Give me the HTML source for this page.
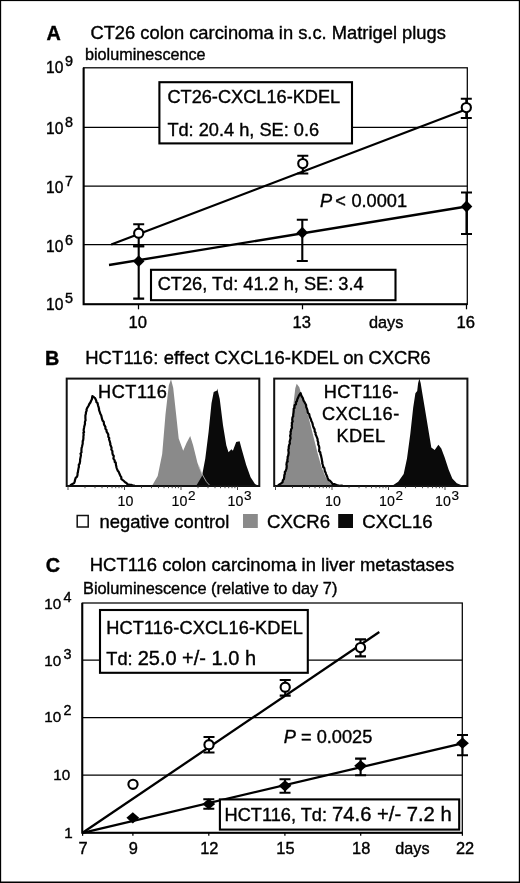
<!DOCTYPE html>
<html lang="en"><head><meta charset="utf-8"><title>Figure</title>
<style>
html,body{margin:0;padding:0;background:#fff;}
body{width:520px;height:883px;overflow:hidden;}
svg{display:block;}
text{font-family:"Liberation Sans", Arial, sans-serif;fill:#000;stroke:#000;stroke-width:0.38px;paint-order:stroke;}
.t18{font-size:18.2px}
.ax{font-size:17px}
.g{stroke:#000;stroke-width:1.25;fill:none}
.ln{stroke:#000;stroke-width:2.3;fill:none;stroke-linecap:butt}
.eb{stroke:#000;stroke-width:2.1;fill:none}
.bx{fill:#fff;stroke:#000;stroke-width:2.1}
.oc{fill:#fff;stroke:#000;stroke-width:2.1}
.fd{fill:#000;stroke:none}
</style></head><body>
<svg width="520" height="883" viewBox="0 0 520 883">
<rect x="0" y="0" width="520" height="883" fill="#fff"/>
<rect x="0" y="0" width="520" height="1.1" fill="#000"/><rect x="0" y="0" width="1.15" height="883" fill="#000"/><rect x="518.8" y="0" width="1.2" height="883" fill="#000"/><rect x="0" y="881.5" width="520" height="1.5" fill="#000"/>

<!-- Panel A -->
<text x="46.5" y="40" style="font-size:19.8px;font-weight:bold">A</text>
<text class="t18" x="90.4" y="39.2" style="font-size:18.33px">CT26 colon carcinoma in s.c. Matrigel plugs</text>
<text x="85" y="60.4" style="font-size:16.2px">bioluminescence</text>
<path class="g" d="M83.6 127.3H467.3"/>
<path class="g" d="M83.6 186.2H467.3"/>
<path class="g" d="M83.6 244.7H467.3"/>
<rect class="g" x="83.6" y="67.8" width="383.70000000000005" height="236.5" style="stroke-width:1.25;stroke:#000"/>
<path d="M83.6 67.8V304.3H467.3" fill="none" stroke="#000" stroke-width="2"/>
<text x="46.1" y="72.8" style="font-size:15.6px">10</text><text x="65.0" y="65.89999999999999" style="font-size:14.4px">9</text>
<text x="46.1" y="133.8" style="font-size:15.6px">10</text><text x="65.0" y="126.9" style="font-size:14.4px">8</text>
<text x="46.1" y="192.7" style="font-size:15.6px">10</text><text x="65.0" y="185.79999999999998" style="font-size:14.4px">7</text>
<text x="46.1" y="251.6" style="font-size:15.6px">10</text><text x="65.0" y="244.7" style="font-size:14.4px">6</text>
<text x="46.1" y="310.2" style="font-size:15.6px">10</text><text x="65.0" y="303.3" style="font-size:14.4px">5</text>
<path class="g" d="M138.5 304.3v5"/>
<path class="g" d="M302.5 304.3v5"/>
<path class="g" d="M466.5 304.3v5"/>
<path class="ln" d="M111.2 244.5L466.5 109.2"/>
<path class="ln" d="M109 265L466.5 206.5"/>
<path class="eb" d="M138.7 224.2V246.2M133.2 224.2H144.2M133.2 246.2H144.2"/>
<path class="eb" d="M302.8 155.8V173.5M297.3 155.8H308.3M297.3 173.5H308.3"/>
<path class="eb" d="M466.3 98.8V118M460.8 98.8H471.8M460.8 118H471.8"/>
<path class="eb" d="M138.7 246.2V298.6M133.2 246.2H144.2M133.2 298.6H144.2"/>
<path class="eb" d="M302.3 219.8V261M296.8 219.8H307.8M296.8 261H307.8"/>
<path class="eb" d="M466.5 192.5V234M461.0 192.5H472.0M461.0 234H472.0"/>
<circle class="oc" cx="138.7" cy="233.2" r="4.6"/>
<circle class="oc" cx="302.8" cy="163.6" r="4.6"/>
<circle class="oc" cx="466.3" cy="107.6" r="4.6"/>
<path class="fd" d="M138.7 255.29999999999998L144.5 261.2L138.7 267.09999999999997L132.89999999999998 261.2Z"/>
<path class="fd" d="M302.3 226.79999999999998L308.1 232.7L302.3 238.6L296.5 232.7Z"/>
<path class="fd" d="M466.5 200.6L472.3 206.5L466.5 212.4L460.7 206.5Z"/>
<rect class="bx" x="159.4" y="82.2" width="192.6" height="61.2"/>
<text class="t18" x="167.4" y="103">CT26-CXCL16-KDEL</text>
<text class="t18" x="167.4" y="135.8">Td: 20.4 h, SE: 0.6</text>
<rect class="bx" x="151" y="269.8" width="244.5" height="30.4"/>
<text class="t18" x="157.7" y="290">CT26, Td: 41.2 h, SE: 3.4</text>
<text class="t18" x="320" y="207.4"><tspan font-style="italic">P</tspan><tspan dx="3">&lt;</tspan><tspan dx="0.6"> 0.0001</tspan></text>
<text class="ax" x="137.7" y="328.2" text-anchor="middle" style="font-size:16.6px">10</text>
<text class="ax" x="301.7" y="328.2" text-anchor="middle" style="font-size:16.6px">13</text>
<text class="ax" x="465.7" y="328.2" text-anchor="middle" style="font-size:16.6px">16</text>
<text x="369" y="328.2" style="font-size:16.3px">days</text>
<!-- Panel B -->
<text x="45" y="365" style="font-size:19.8px;font-weight:bold">B</text>
<text class="t18" x="85.2" y="363.7" style="font-size:18.45px"><tspan style="letter-spacing:0.12px">HCT116: effect CXCL16-</tspan><tspan style="letter-spacing:-0.1px">KDEL on CXCR6</tspan></text>
<polygon points="152.2,485.5 157.7,476.1 162.2,454.0 165.5,414.2 168.8,385.5 171.0,379.3 173.2,387.7 176.1,414.2 178.7,438.6 183.2,450.7 186.5,443.0 190.2,435.9 193.1,445.2 197.5,462.9 202.0,473.9 206.4,481.7 209.7,485.5" fill="#8a8a8a"/>
<polygon points="196.4,485.5 202.0,476.1 205.3,458.5 208.6,431.9 211.5,403.2 213.7,392.1 217.0,390.5 217.4,388.5 217.8,391.0 219.7,398.7 223.0,425.3 226.3,445.2 228.5,452.3 231.4,449.2 232.9,450.7 236.2,441.9 239.6,441.2 241.8,449.6 246.2,465.1 250.6,477.3 255.0,483.9 257.9,485.5" fill="#0a0a0a"/>
<path d="M198.5 465.5L202 474L206.4 481.7L209.7 485.3" fill="none" stroke="#c8c8c8" stroke-width="0.8"/>
<polyline points="70.1,485.5 72.0,484.3 74.1,483.1 74.8,481.3 74.9,480.4 75.7,477.8 77.1,476.6 77.5,475.0 77.6,472.8 77.9,472.4 78.1,470.6 78.6,467.9 78.9,467.1 78.8,464.6 79.7,463.7 79.8,462.7 80.1,461.2 80.1,459.4 80.4,458.0 81.0,455.1 80.5,453.7 81.5,452.4 81.4,450.6 81.5,449.2 81.6,447.9 82.0,446.8 82.3,445.3 82.7,443.8 82.7,440.8 83.1,440.5 83.4,438.3 83.4,436.1 83.7,435.0 83.4,432.5 84.1,432.3 83.6,430.3 84.1,427.5 84.2,426.8 85.0,423.9 84.9,422.2 85.2,421.0 85.6,420.3 85.4,418.6 85.4,415.4 85.9,413.7 85.9,412.5 86.7,410.3 86.5,409.7 87.1,408.1 88.7,405.5 89.3,404.0 90.4,402.5 91.0,401.0 91.9,399.3 92.0,398.2 92.4,396.0 94.4,397.7 95.1,398.2 96.2,400.4 96.4,402.2 97.5,403.0 98.0,405.3 98.5,406.8 99.1,409.1 98.9,409.7 100.1,412.9 100.3,413.8 101.2,415.3 101.6,417.0 102.1,419.2 102.6,420.6 103.7,421.7 104.0,424.4 104.4,425.2 105.4,426.8 105.4,428.7 106.4,429.7 106.6,431.6 107.7,433.4 108.3,434.5 108.3,436.8 109.3,438.2 109.0,439.3 109.7,441.1 110.4,443.8 110.2,444.5 111.2,446.8 111.6,447.9 111.3,449.5 112.4,451.1 112.4,453.0 112.8,454.7 113.8,455.9 113.4,458.7 114.7,460.4 114.7,462.0 115.7,462.5 116.0,465.1 116.3,466.2 116.5,467.5 116.9,468.7 117.7,470.7 118.7,471.8 119.7,474.3 120.5,476.1 121.3,477.1 121.3,478.9 122.5,479.9 123.9,481.0 125.1,482.3 126.4,483.0 127.5,484.3 129.4,484.6 131.1,484.8 132.9,485.5 134.7,485.7" fill="none" stroke="#000" stroke-width="2.2" stroke-linejoin="round"/>
<rect x="66.7" y="378.6" width="192.6" height="107.4" fill="none" stroke="#111" stroke-width="2"/>
<text class="t18" x="98.1" y="397.6" style="letter-spacing:0.5px">HCT116</text>
<polygon points="277.7,485.5 282.1,482.1 285.2,471.0 288.2,450.8 291.2,426.5 293.2,406.3 295.3,388.2 296.7,383.7 299.3,387.2 301.3,394.2 305.4,406.3 309.4,420.5 313.4,436.6 317.5,452.8 321.5,466.9 325.6,477.0 330.6,483.5 335.7,485.5" fill="#8a8a8a"/>
<polygon points="392.6,485.5 398.2,481.7 403.7,473.9 407.0,458.5 410.3,434.1 413.2,407.6 415.4,393.2 417.2,391.0 418.1,383.3 419.4,378.6 420.7,383.3 422.1,392.1 424.7,407.6 428.0,427.5 431.3,447.4 434.7,450.0 438.4,444.7 441.3,448.5 444.6,457.3 448.6,469.5 452.3,478.4 456.8,483.2 462.3,485.5" fill="#0a0a0a"/>
<polyline points="278.0,485.5 279.5,484.4 281.1,483.4 282.6,482.2 282.8,480.4 283.9,479.0 284.3,476.5 284.3,475.1 284.9,474.0 284.8,471.8 285.5,471.3 286.5,468.5 286.7,466.8 286.7,465.2 286.4,464.8 286.8,462.2 287.7,461.6 287.3,460.2 287.7,458.1 287.6,457.0 288.3,455.4 288.7,452.7 288.4,450.9 288.4,449.2 288.8,448.5 288.7,447.0 289.2,444.8 289.9,443.4 289.6,441.8 290.2,439.5 290.7,437.9 290.6,437.6 290.1,435.9 290.7,433.9 290.5,431.5 290.9,431.3 291.1,429.4 292.0,428.0 291.7,425.5 292.0,424.6 291.8,422.9 292.7,421.4 292.2,419.9 292.5,417.2 293.2,416.5 293.2,414.8 293.6,412.1 293.7,410.2 293.7,408.5 294.5,408.2 294.6,405.1 296.0,404.2 296.0,402.1 296.8,401.4 297.3,399.2 297.9,398.1 298.9,395.6 300.6,393.2 301.5,396.0 302.4,397.3 302.9,398.2 303.5,400.6 304.3,401.7 305.5,404.0 306.1,405.1 306.2,407.3 306.8,408.3 307.3,409.8 307.9,412.9 309.2,414.0 309.4,415.2 309.7,416.8 311.0,419.4 311.3,421.0 312.2,422.5 312.7,424.4 313.0,426.0 313.5,427.4 314.6,429.4 314.7,431.6 315.6,432.7 315.5,434.2 316.3,435.9 317.0,437.7 317.6,439.2 317.6,440.7 318.3,442.7 318.2,444.4 319.0,445.9 319.4,448.1 319.2,449.1 319.2,451.3 320.3,452.4 320.5,454.4 320.9,455.1 321.4,457.4 321.7,458.7 322.0,460.9 322.4,462.4 322.2,463.1 323.0,465.5 323.2,467.2 324.2,467.8 324.6,469.6 324.8,471.1 325.7,472.7 326.1,474.1 327.0,476.2 327.7,478.1 328.6,480.1 330.0,480.8 331.3,482.2 332.5,483.9 334.3,484.1 336.0,484.7 337.7,485.4 339.5,485.8 341.3,485.7 343.0,485.9 344.7,486.0" fill="none" stroke="#000" stroke-width="2.2" stroke-linejoin="round"/>
<rect x="274.2" y="378.6" width="193.2" height="107.4" fill="none" stroke="#111" stroke-width="2"/>
<text class="t18" x="361.4" y="398" text-anchor="middle" style="letter-spacing:0.4px">HCT116-</text>
<text class="t18" x="360.8" y="420" text-anchor="middle" style="letter-spacing:0.4px">CXCL16-</text>
<text class="t18" x="361" y="441.5" text-anchor="middle" style="letter-spacing:0.4px">KDEL</text>
<path d="M68.0 486v4M85.0 486v2.2M95.0 486v2.2M102.0 486v2.2M107.5 486v2.2M112.0 486v2.2M115.7 486v2.2M119.0 486v2.2M121.9 486v2.2M124.5 486v4M141.5 486v2.2M151.5 486v2.2M158.5 486v2.2M164.0 486v2.2M168.5 486v2.2M172.2 486v2.2M175.5 486v2.2M178.4 486v2.2M181.0 486v4M198.0 486v2.2M208.0 486v2.2M215.0 486v2.2M220.5 486v2.2M225.0 486v2.2M228.7 486v2.2M232.0 486v2.2M234.9 486v2.2M237.5 486v4" stroke="#333" stroke-width="0.9" fill="none"/>
<path d="M275.5 486v4M292.5 486v2.2M302.5 486v2.2M309.5 486v2.2M315.0 486v2.2M319.5 486v2.2M323.2 486v2.2M326.5 486v2.2M329.4 486v2.2M332.0 486v4M349.0 486v2.2M359.0 486v2.2M366.0 486v2.2M371.5 486v2.2M376.0 486v2.2M379.7 486v2.2M383.0 486v2.2M385.9 486v2.2M388.5 486v4M405.5 486v2.2M415.5 486v2.2M422.5 486v2.2M428.0 486v2.2M432.5 486v2.2M436.2 486v2.2M439.5 486v2.2M442.4 486v2.2M445.0 486v4" stroke="#333" stroke-width="0.9" fill="none"/>
<text x="117.5" y="505.8" style="font-size:14.2px;stroke-width:0.15px">10</text>
<text x="171.5" y="505.8" style="font-size:14.2px;stroke-width:0.15px">10</text><text x="188.1" y="500.4" style="font-size:13.6px;stroke-width:0.15px">2</text>
<text x="227.5" y="505.8" style="font-size:14.2px;stroke-width:0.15px">10</text><text x="244.1" y="500.4" style="font-size:13.6px;stroke-width:0.15px">3</text>
<text x="325" y="505.8" style="font-size:14.2px;stroke-width:0.15px">10</text>
<text x="379" y="505.8" style="font-size:14.2px;stroke-width:0.15px">10</text><text x="395.6" y="500.4" style="font-size:13.6px;stroke-width:0.15px">2</text>
<text x="435" y="505.8" style="font-size:14.2px;stroke-width:0.15px">10</text><text x="451.6" y="500.4" style="font-size:13.6px;stroke-width:0.15px">3</text>
<rect x="77.2" y="515.5" width="11" height="11.5" fill="#fff" stroke="#111" stroke-width="1.5"/>
<text class="t18" x="99.6" y="527.7" style="font-size:18.4px">negative control</text>
<rect x="243" y="514" width="14.8" height="14" fill="#8a8a8a"/>
<text class="t18" x="267" y="527.7" style="font-size:18.6px">CXCR6</text>
<rect x="338.2" y="514" width="14.8" height="14" fill="#0a0a0a"/>
<text class="t18" x="362.3" y="527.7" style="font-size:18.6px">CXCL16</text>
<!-- Panel C -->
<text x="45.8" y="572" style="font-size:19.8px;font-weight:bold">C</text>
<text class="t18" x="89.8" y="571.2" style="font-size:18.45px">HCT116 colon carcinoma in liver metastases</text>
<text x="83" y="594" style="font-size:16.35px">Bioluminescence (relative to day 7)</text>
<path class="g" d="M82.3 660.1H462.3"/>
<path class="g" d="M82.3 717.7H462.3"/>
<path class="g" d="M82.3 775.2H462.3"/>
<rect class="g" x="82.3" y="603" width="380.0" height="229.79999999999995" style="stroke-width:1.25;stroke:#000"/>
<path d="M82.3 603V832.8H462.3" fill="none" stroke="#000" stroke-width="2"/>
<text x="44.3" y="608.5" style="font-size:15.2px">10</text><text x="63.5" y="601.6" style="font-size:14.4px">4</text>
<text x="44.3" y="665.9" style="font-size:15.2px">10</text><text x="63.5" y="659.0" style="font-size:14.4px">3</text>
<text x="44.3" y="721.8" style="font-size:15.2px">10</text><text x="63.5" y="714.9" style="font-size:14.4px">2</text>
<text x="53.3" y="779.8" style="font-size:15.2px">10</text>
<text x="64.3" y="837.9" style="font-size:15.2px">1</text>
<path class="g" d="M82.6 832.8v3"/>
<path class="g" d="M132.9 832.8v3"/>
<path class="g" d="M208.8 832.8v3"/>
<path class="g" d="M284.9 832.8v3"/>
<path class="g" d="M360.7 832.8v3"/>
<path class="g" d="M462.4 832.8v3"/>
<path class="ln" d="M82.6 832.8L379.3 632"/>
<path class="ln" d="M82.6 832.8L462.4 743.3"/>
<path class="eb" d="M209 737V752.5M203.5 737H214.5M203.5 752.5H214.5"/>
<path class="eb" d="M285.2 680V695.6M279.7 680H290.7M279.7 695.6H290.7"/>
<path class="eb" d="M360.5 639.4V656.4M355.0 639.4H366.0M355.0 656.4H366.0"/>
<path class="eb" d="M208.8 799.2V808.8M203.3 799.2H214.3M203.3 808.8H214.3"/>
<path class="eb" d="M285 779.2V792.8M279.5 779.2H290.5M279.5 792.8H290.5"/>
<path class="eb" d="M360.6 758.6V775.3M355.1 758.6H366.1M355.1 775.3H366.1"/>
<path class="eb" d="M462.5 735V755.2M457.0 735H468.0M457.0 755.2H468.0"/>
<circle class="oc" cx="133" cy="784.3" r="4.6"/>
<circle class="oc" cx="209" cy="744.7" r="4.6"/>
<circle class="oc" cx="285.2" cy="687.2" r="4.6"/>
<circle class="oc" cx="360.5" cy="647.6" r="4.6"/>
<path class="fd" d="M132.8 812.1999999999999L139.20000000000002 817.8L132.8 823.4L126.4 817.8Z"/>
<path class="fd" d="M208.8 798.4L215.20000000000002 804L208.8 809.6L202.4 804Z"/>
<path class="fd" d="M285 780.1999999999999L291.4 785.8L285 791.4L278.6 785.8Z"/>
<path class="fd" d="M360.6 760.1999999999999L367.0 765.8L360.6 771.4L354.20000000000005 765.8Z"/>
<path class="fd" d="M462.5 737.6L468.9 743.2L462.5 748.8000000000001L456.1 743.2Z"/>
<rect class="bx" x="100" y="610" width="207.8" height="62.8"/>
<text class="t18" x="106.2" y="633.8" style="letter-spacing:0.12px">HCT116-CXCL16-KDEL</text>
<text class="t18" x="106.3" y="664.5">Td: <tspan style="font-size:20px">25.0 +/- 1.0 h</tspan></text>
<rect class="bx" x="219.9" y="799.4" width="239.3" height="30.2"/>
<text class="t18" x="224.6" y="821.2">HCT116, Td: <tspan style="font-size:20.2px">74.6 +/- 7.2 h</tspan></text>
<text class="t18" x="283.8" y="742.5"><tspan font-style="italic">P</tspan> = 0.0025</text>
<text x="83.1" y="854.2" text-anchor="middle" style="font-size:16.4px">7</text>
<text x="133.4" y="854.2" text-anchor="middle" style="font-size:16.4px">9</text>
<text x="209.3" y="854.2" text-anchor="middle" style="font-size:16.4px">12</text>
<text x="285.4" y="854.2" text-anchor="middle" style="font-size:16.4px">15</text>
<text x="361.2" y="854.2" text-anchor="middle" style="font-size:16.4px">18</text>
<text x="465" y="854.2" text-anchor="middle" style="font-size:16.4px">22</text>
<text x="395.3" y="854.2" style="font-size:16.2px">days</text>
</svg></body></html>
